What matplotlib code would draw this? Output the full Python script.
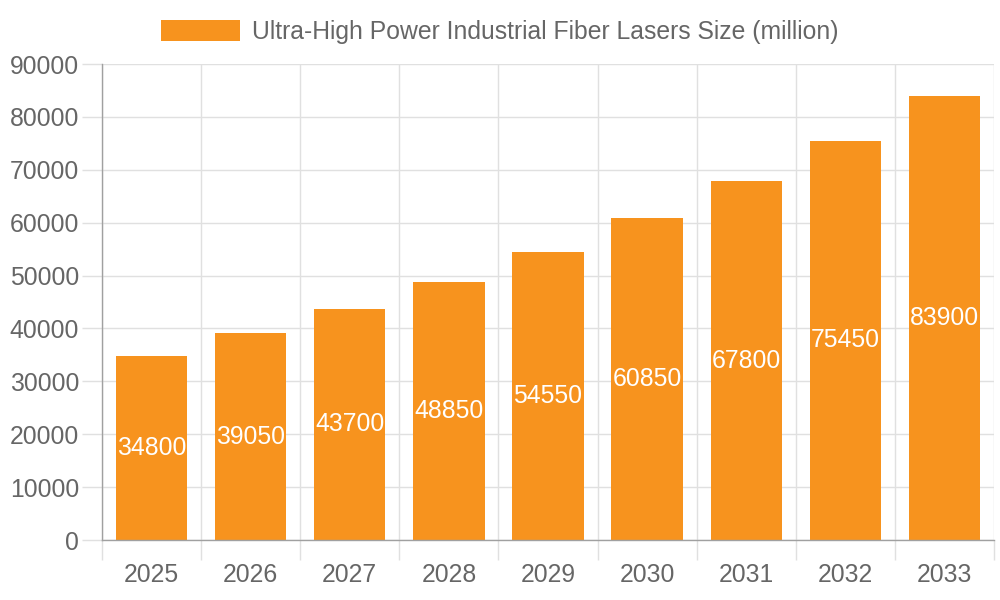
import matplotlib
matplotlib.use("Agg")
import matplotlib.pyplot as plt
from matplotlib.patches import Patch

years = ["2025", "2026", "2027", "2028", "2029", "2030", "2031", "2032", "2033"]
sizes = [34800, 39050, 43700, 48850, 54550, 60850, 67800, 75450, 83900]
series_name = "Ultra-High Power Industrial Fiber Lasers Size (million)"
yticks = [0, 10000, 20000, 30000, 40000, 50000, 60000, 70000, 80000, 90000]

plt.rcParams['font.family'] = ['Liberation Sans', 'DejaVu Sans']
bar_color = "#F7931E"
grid_color = "#E0E0E0"
text_color = "#666666"
axis_color = "#A0A0A0"
fs = 17.8

fig = plt.figure(figsize=(10, 6), dpi=100)
ax = fig.add_axes([0.102, 0.1, 0.892, 0.7933])

x = list(range(len(years)))
bars = ax.bar(x, sizes, width=0.72, color=bar_color, zorder=3)
for xi, v in zip(x, sizes):
    ax.text(xi, v / 2, str(v), ha="center", va="center", color="white",
            fontsize=fs, zorder=4)

ax.set_xlim(-0.5, len(years) - 0.5)
ax.set_ylim(0, 90000)

ax.set_xticks(x)
ax.set_xticklabels(years)
ax.set_xticks([i - 0.5 for i in range(len(years) + 1)], minor=True)
ax.tick_params(axis="x", which="major", length=0, pad=16.5, labelsize=fs, labelcolor=text_color)
ax.tick_params(axis="x", which="minor", length=14.4, color=grid_color, width=1)
ax.set_yticks(yticks)
ax.tick_params(axis="y", which="major", length=14.4, color=grid_color, width=1,
               pad=2, labelsize=fs, labelcolor=text_color)

ax.grid(False)
ax.xaxis.grid(True, which="minor", color=grid_color, linewidth=1, zorder=0)
ax.yaxis.grid(True, which="major", color=grid_color, linewidth=1, zorder=0)
ax.set_axisbelow(True)

for s in ["top", "right"]:
    ax.spines[s].set_visible(False)
ax.spines["left"].set_color(axis_color)
ax.spines["bottom"].set_color(axis_color)
ax.spines["left"].set_linewidth(1)
ax.spines["bottom"].set_linewidth(1)
ax.spines["left"].set_zorder(5)
ax.spines["bottom"].set_zorder(5)

handle = Patch(facecolor=bar_color, edgecolor="none")
fig.legend([handle], [series_name], loc="center", bbox_to_anchor=(0.5, 1 - 32 / 600),
           frameon=False, fontsize=fs, labelcolor=text_color,
           handlelength=3.2, handleheight=0.96, handletextpad=0.48, borderaxespad=0)

fig.savefig("out.png", dpi=100)
